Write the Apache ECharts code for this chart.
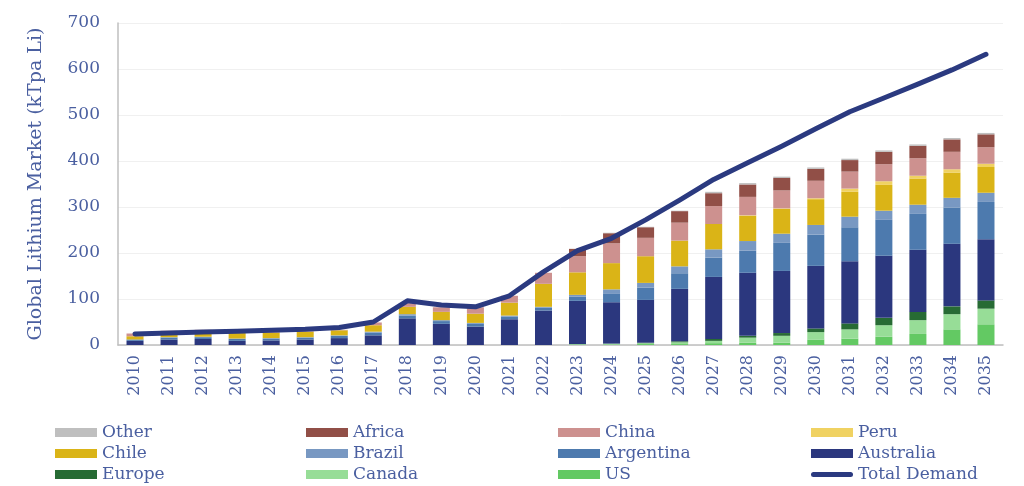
<!DOCTYPE html>
<html>
<head>
<meta charset="utf-8">
<script src="https://cdn.jsdelivr.net/npm/echarts@6/dist/echarts.min.js"></script>
<style>
  html, body { margin: 0; padding: 0; background: #fff; }
  #chart { width: 1024px; height: 486px; }
</style>
</head>
<body>
<div id="chart"></div>
<script>
const years = ['2010', '2011', '2012', '2013', '2014', '2015', '2016', '2017', '2018', '2019', '2020', '2021', '2022',
  '2023', '2024', '2025', '2026', '2027', '2028', '2029', '2030', '2031', '2032', '2033', '2034', '2035']

// kTpa Li by supply region, 2010 -> 2035
const us        = [0, 0, 0, 0, 0, 0, 0, 0, 0, 0, 0, 0, 0, 1, 1, 2, 2, 4, 5, 5, 12, 14, 18, 24, 34, 45]
const canada    = [0, 0, 0, 0, 0, 0, 0, 0, 0, 0, 0, 0, 0, 1, 2, 2, 4, 5, 11, 15, 16, 20, 25, 30, 33, 34]
const europe    = [0, 0, 0, 0, 0, 0, 0, 0, 0, 0, 0, 0, 0, 0, 0, 1, 2, 4, 4, 6, 8, 13, 16, 18, 17, 18]
const australia = [9, 12, 13, 9, 10, 12, 15, 21, 58, 46, 40, 56, 75, 94, 90, 93, 114, 135, 137, 135, 136, 135, 135, 135, 136, 133]
const argentina = [3, 4, 4, 4, 4, 4, 5, 6, 6, 6, 6, 6, 6, 9, 18, 27, 34, 42, 48, 61, 68, 74, 78, 78, 79, 81]
const brazil    = [0, 1, 1, 1, 1, 1, 1, 2, 3, 2, 2, 2, 2, 4, 10, 10, 15, 18, 21, 20, 21, 23, 20, 20, 21, 20]
const chile     = [7, 9, 9, 12, 12, 12, 11, 14, 16, 18, 20, 28, 50, 49, 57, 58, 56, 55, 55, 54, 56, 54, 56, 57, 55, 56]
const peru      = [0, 0, 0, 0, 0, 0, 0, 0, 0, 0, 0, 0, 0, 0, 0, 0, 0, 0, 1, 1, 2, 7, 8, 6, 7, 7]
const china     = [6, 5, 6, 2, 1, 1, 1, 6, 8, 10, 14, 15, 24, 35, 43, 40, 39, 39, 40, 39, 38, 37, 37, 38, 38, 36]
const africa    = [0, 0, 0, 0, 0, 0, 0, 0, 0, 0, 0, 0, 0, 16, 22, 23, 25, 28, 27, 27, 26, 25, 27, 27, 27, 28]
const other     = [0, 0, 0, 0, 0, 0, 0, 0, 0, 0, 0, 0, 0, 0, 1, 1, 1, 3, 3, 3, 3, 3, 3, 3, 3, 3]
const totalDemand = [24, 26, 28, 30, 32, 34, 38, 50, 96, 87, 83, 107, 159, 205, 232, 272, 315, 360, 396, 432, 470, 507, 537, 567, 598, 632]

const textBlue = '#4a5fa0'
const serif = '"DejaVu Serif", "Liberation Serif", serif'
const lineBlue = '#2b3a80'

const stackDefs = [
  { name: 'US', data: us, color: '#63c963' },
  { name: 'Canada', data: canada, color: '#97dd97' },
  { name: 'Europe', data: europe, color: '#276b34' },
  { name: 'Australia', data: australia, color: '#2b377e' },
  { name: 'Argentina', data: argentina, color: '#4d7aae' },
  { name: 'Brazil', data: brazil, color: '#7898c2' },
  { name: 'Chile', data: chile, color: '#dab417' },
  { name: 'Peru', data: peru, color: '#f0d262' },
  { name: 'China', data: china, color: '#cd918f' },
  { name: 'Africa', data: africa, color: '#914f47' },
  { name: 'Other', data: other, color: '#bfbfbf' }
]

// legend is laid out as 4 columns of 3 rows
const legendCols = [
  ['Other', 'Chile', 'Europe'],
  ['Africa', 'Brazil', 'Canada'],
  ['China', 'Argentina', 'US'],
  ['Peru', 'Australia', 'Total Demand']
]
const legendX = [55, 306, 558, 811]
const lineIcon = 'path://M2.5,0 L39.5,0 A2.5,2.5 0 0 1 39.5,5 L2.5,5 A2.5,2.5 0 0 1 2.5,0 Z'

const chart = echarts.init(document.getElementById('chart'))

const series = stackDefs.map(s => ({
  name: s.name,
  type: 'bar',
  stack: 'supply',
  barWidth: '50%',
  data: s.data,
  itemStyle: { color: s.color },
  emphasis: { disabled: true }
}))

series.push({
  name: 'Total Demand',
  type: 'line',
  data: totalDemand,
  symbol: 'none',
  z: 5,
  lineStyle: { color: lineBlue, width: 5, cap: 'round', join: 'round' },
  itemStyle: { color: lineBlue },
  emphasis: { disabled: true }
})

chart.setOption({
  animation: false,
  textStyle: { fontFamily: serif },
  grid: { left: 118, right: 21, top: 23, bottom: 141 },
  legend: legendCols.map((col, i) => ({
    orient: 'vertical',
    left: legendX[i],
    top: 424,
    height: 80,
    padding: 0,
    itemWidth: 42,
    itemHeight: 9,
    itemGap: 4,
    selectedMode: false,
    data: col.map(name => ({ name, icon: name === 'Total Demand' ? lineIcon : 'rect' })),
    textStyle: { color: textBlue, fontSize: 17, lineHeight: 17, fontFamily: serif }
  })),
  xAxis: {
    type: 'category',
    data: years,
    axisLine: { lineStyle: { color: '#bfbfbf', width: 1.5 } },
    axisTick: { show: false },
    axisLabel: { rotate: 90, margin: 10, color: textBlue, fontSize: 16, fontFamily: serif }
  },
  yAxis: {
    type: 'value',
    min: 0,
    max: 700,
    interval: 100,
    name: 'Global Lithium Market (kTpa Li)',
    nameLocation: 'middle',
    nameGap: 72,
    nameTextStyle: { color: textBlue, fontSize: 19, fontFamily: serif },
    axisLine: { show: true, lineStyle: { color: '#bfbfbf', width: 1.5 } },
    axisTick: { show: false },
    axisLabel: { margin: 18, color: textBlue, fontSize: 17, fontFamily: serif },
    splitLine: { lineStyle: { color: '#f0f0f0' } }
  },
  series: series
})

window.addEventListener('resize', () => chart.resize())
</script>
</body>
</html>
